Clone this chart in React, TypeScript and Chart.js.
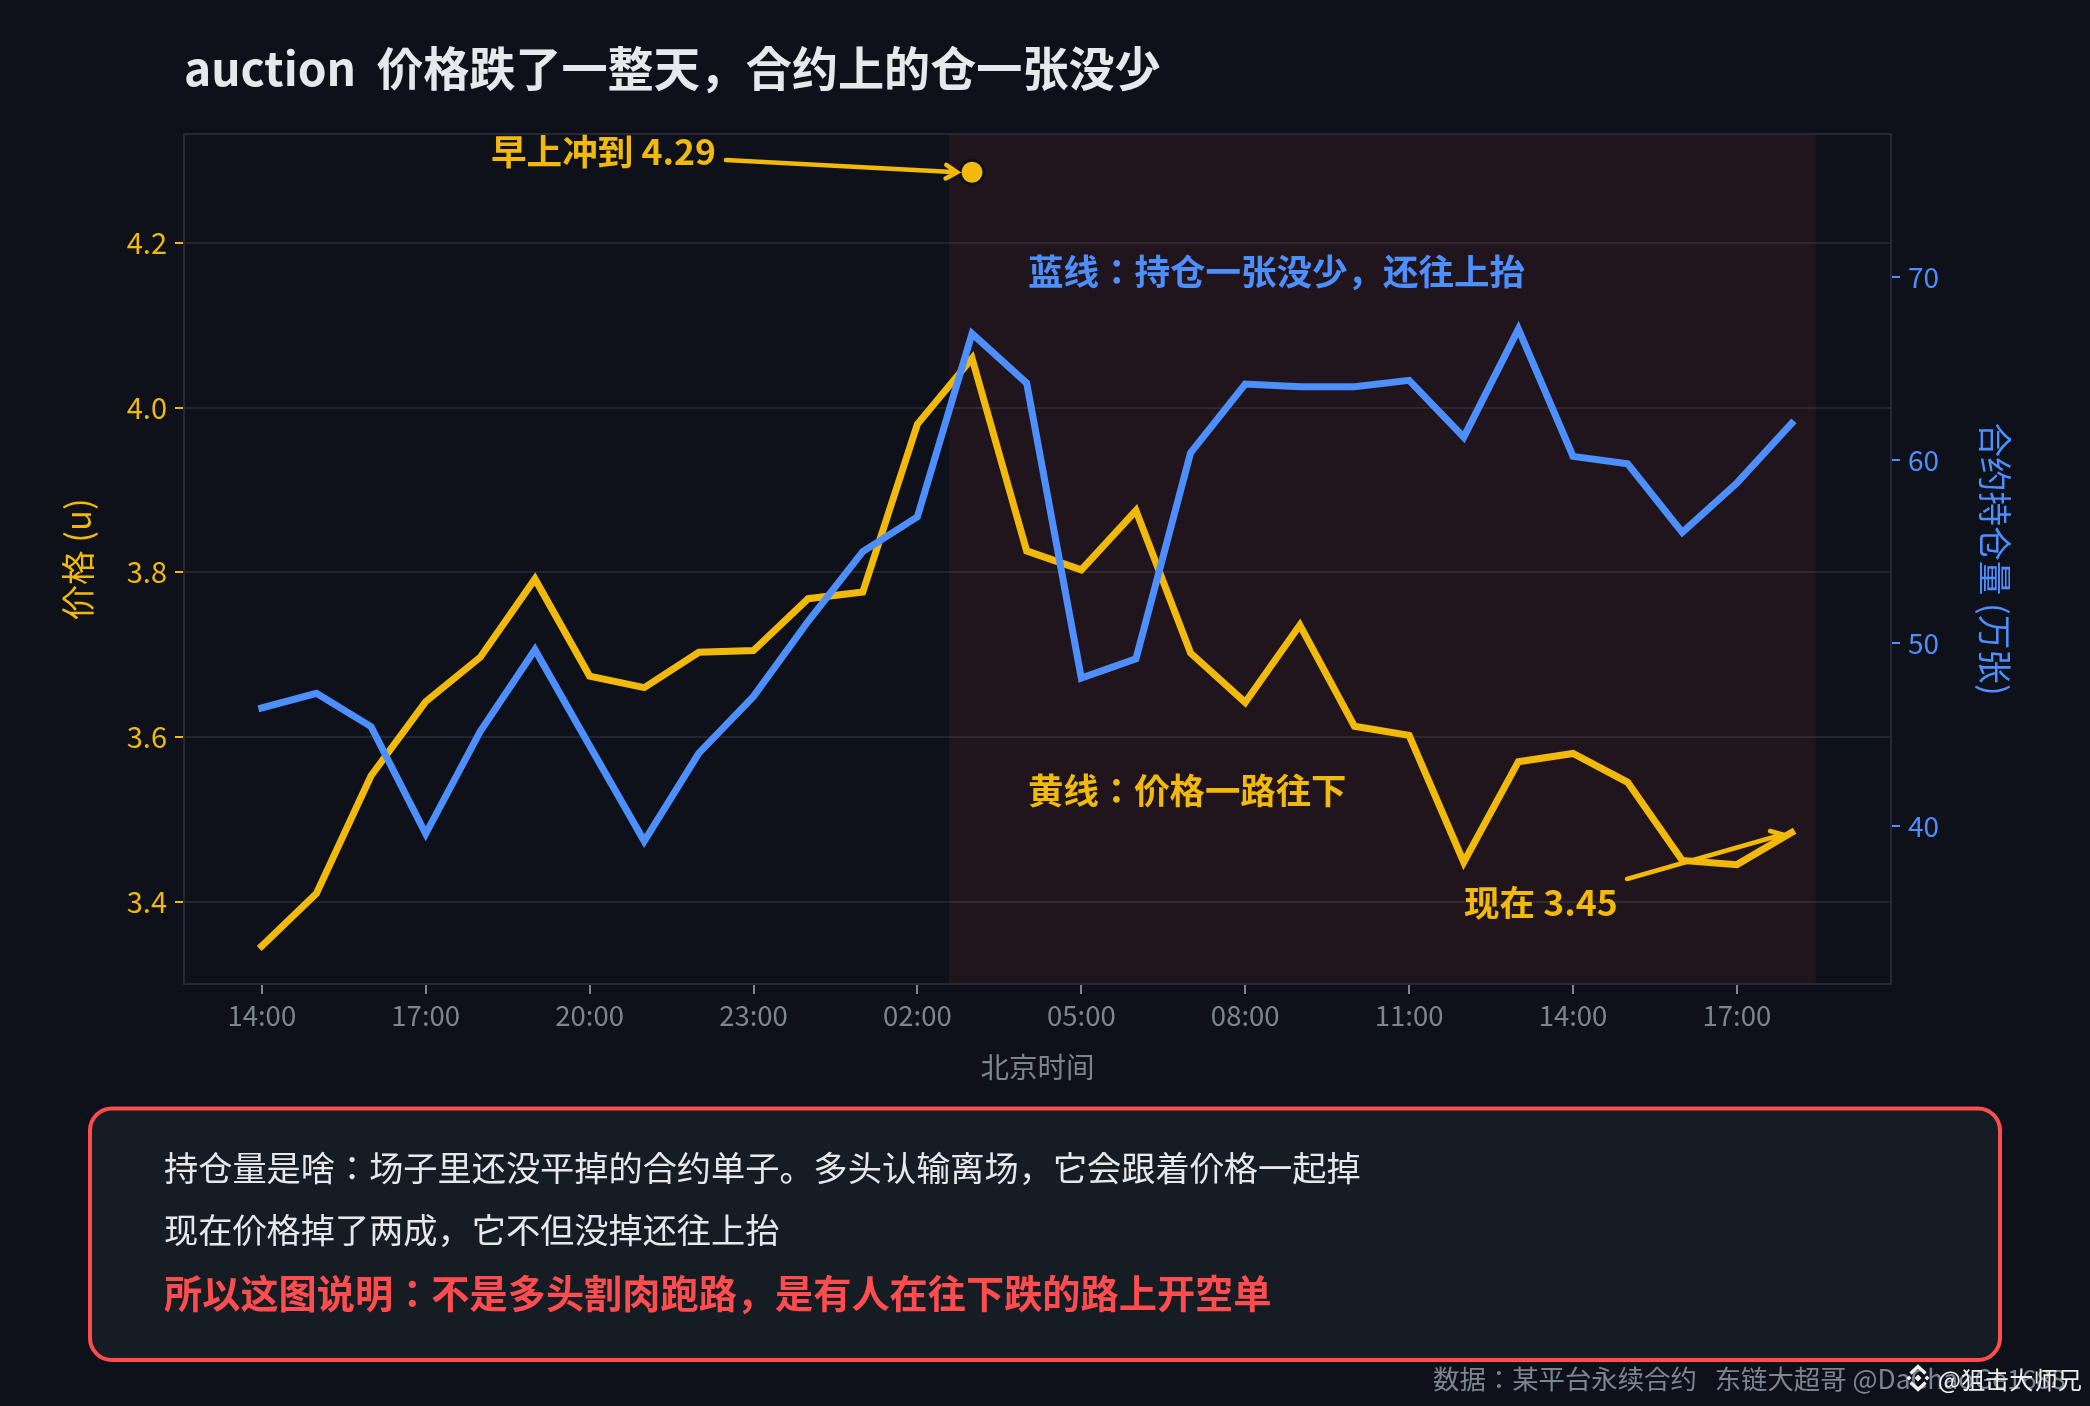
import React, { useEffect, useRef } from "react";
import { Chart, registerables } from "chart.js";

Chart.register(...registerables);

const FONT = '"Noto Sans CJK JP", "Noto Sans CJK SC", sans-serif';
const BG = "#0e1119";
const YELLOW = "#f0b90b";
const BLUE = "#4d8fff";
const RED = "#ff4d4f";
const GRID = "#1f2630";
const TICKTEXT = "#7d8590";

const hourLabels = ["14:00", "15:00", "16:00", "17:00", "18:00", "19:00", "20:00", "21:00", "22:00", "23:00", "00:00", "01:00", "02:00", "03:00", "04:00", "05:00", "06:00", "07:00", "08:00", "09:00", "10:00", "11:00", "12:00", "13:00", "14:00", "15:00", "16:00", "17:00", "18:00"];
const price = [3.346, 3.41, 3.553, 3.643, 3.697, 3.792, 3.674, 3.66, 3.703, 3.705, 3.768, 3.776, 3.98, 4.06, 3.826, 3.803, 3.875, 3.702, 3.642, 3.736, 3.613, 3.602, 3.448, 3.57, 3.58, 3.545, 3.45, 3.445, 3.484];
const openInterest = [46.47, 47.27, 45.45, 39.6, 45.2, 49.65, 44.4, 39.2, 44.0, 47.1, 51.2, 55.0, 56.9, 66.9, 64.2, 48.1, 49.15, 60.4, 64.15, 64.0, 64.0, 64.35, 61.25, 67.15, 60.2, 59.8, 56.05, 58.75, 62.0];
const peakIndex = 13;
const peakPrice = 4.286;
const shadeStart = 12.58;
const shadeEnd = 28.44;

const title = "auction  价格跌了一整天，合约上的仓一张没少";
const panelLines = ["持仓量是啥：场子里还没平掉的合约单子。多头认输离场，它会跟着价格一起掉", "现在价格掉了两成，它不但没掉还往上抬", "所以这图说明：不是多头割肉跑路，是有人在往下跌的路上开空单"];
const sourceNote = "数据：某平台永续合约   东链大超哥 @DaChaoGe1688";
const watermark = "@狙击大师兄";

function text(ctx: CanvasRenderingContext2D, s: string, x: number, y: number, size: number, color: string, bold = false, align: CanvasTextAlign = "left") {
  ctx.font = `${bold ? "700" : "400"} ${size}px ${FONT}`;
  ctx.fillStyle = color;
  ctx.textAlign = align;
  ctx.textBaseline = "middle";
  ctx.fillText(s, x, y);
}

function arrow(ctx: CanvasRenderingContext2D, x0: number, y0: number, x1: number, y1: number) {
  ctx.strokeStyle = YELLOW;
  ctx.lineWidth = 4.5;
  ctx.lineCap = "round";
  ctx.lineJoin = "miter";
  ctx.beginPath();
  ctx.moveTo(x0, y0);
  ctx.lineTo(x1, y1);
  const a = Math.atan2(y1 - y0, x1 - x0);
  const h = 13;
  ctx.moveTo(x1 - h * Math.cos(a - 0.55), y1 - h * Math.sin(a - 0.55));
  ctx.lineTo(x1, y1);
  ctx.lineTo(x1 - h * Math.cos(a + 0.55), y1 - h * Math.sin(a + 0.55));
  ctx.stroke();
}

const shadePlugin = {
  id: "shade",
  beforeDatasetsDraw(chart: any) {
    const { ctx, chartArea, scales } = chart;
    const x0 = scales.x.getPixelForValue(shadeStart);
    const x1 = scales.x.getPixelForValue(shadeEnd);
    ctx.save();
    ctx.fillStyle = "rgba(255,77,79,0.08)";
    ctx.fillRect(x0, chartArea.top, x1 - x0, chartArea.bottom - chartArea.top);
    ctx.restore();
  },
};

const decorPlugin = {
  id: "decor",
  afterDraw(chart: any) {
    const { ctx, chartArea, scales } = chart;
    const px = (v: number) => scales.x.getPixelForValue(v);
    const py = (v: number) => scales.y.getPixelForValue(v);
    ctx.save();
    // plot frame
    ctx.strokeStyle = "#232a35";
    ctx.lineWidth = 2;
    ctx.strokeRect(chartArea.left, chartArea.top, chartArea.right - chartArea.left, chartArea.bottom - chartArea.top);

    // annotations
    text(ctx, "早上冲到 4.29", 491, 151.5, 35.6, YELLOW, true);
    arrow(ctx, 726, 160, px(peakIndex) - 15, py(peakPrice));
    text(ctx, "蓝线：持仓一张没少，还往上抬", 1028, 272, 35.5, BLUE, true);
    text(ctx, "黄线：价格一路往下", 1028, 791, 35.4, YELLOW, true);
    text(ctx, "现在 3.45", 1464, 902.5, 35.6, YELLOW, true);
    arrow(ctx, 1627, 879, px(28) - 9, py(price[28]) + 2);

    // title
    text(ctx, title, 184, 68, 46.1, "#e6e8eb", true);

    // panel
    ctx.beginPath();
    ctx.roundRect(90, 1108.5, 1910, 251.5, 22);
    ctx.fillStyle = "#161c24";
    ctx.fill();
    ctx.strokeStyle = RED;
    ctx.lineWidth = 4;
    ctx.stroke();
    text(ctx, panelLines[0], 164, 1168, 34.2, "#e6e8eb");
    text(ctx, panelLines[1], 164, 1230, 34.2, "#e6e8eb");
    text(ctx, panelLines[2], 164, 1293, 38.2, RED, true);

    // footer and watermark
    text(ctx, sourceNote, 1433, 1379, 26.4, "#7d8590");
    const cx = 1918, cy = 1378;
    ctx.strokeStyle = "#f0f0f0";
    ctx.fillStyle = "#f0f0f0";
    ctx.lineWidth = 3.2;
    ctx.lineCap = "butt";
    ctx.beginPath();
    ctx.moveTo(cx - 7.5, cy - 4.5);
    ctx.lineTo(cx, cy - 11.5);
    ctx.lineTo(cx + 7.5, cy - 4.5);
    ctx.moveTo(cx - 7.5, cy + 4.5);
    ctx.lineTo(cx, cy + 11.5);
    ctx.lineTo(cx + 7.5, cy + 4.5);
    ctx.stroke();
    const diamond = (x: number, y: number, r: number) => {
      ctx.beginPath();
      ctx.moveTo(x, y - r);
      ctx.lineTo(x + r, y);
      ctx.lineTo(x, y + r);
      ctx.lineTo(x - r, y);
      ctx.closePath();
      ctx.fill();
    };
    diamond(cx, cy, 3.5);
    diamond(cx - 9, cy, 2.5);
    diamond(cx + 9, cy, 2.5);
    text(ctx, watermark, 1938, 1380, 24.2, "#f0f0f0");
    ctx.restore();
  },
};

export default function App() {
  const ref = useRef<HTMLCanvasElement>(null);
  useEffect(() => {
    document.body.style.margin = "0";
    document.body.style.background = BG;
    const chart = new Chart(ref.current!, {
      type: "line",
      data: {
        datasets: [
          {
            label: "合约持仓量",
            data: openInterest.map((v, i) => ({ x: i, y: v })),
            yAxisID: "y1",
            borderColor: BLUE,
            borderWidth: 7,
            pointRadius: 0,
            tension: 0,
            borderJoinStyle: "miter",
            borderCapStyle: "square",
            order: 1,
          },
          {
            label: "价格",
            data: price.map((v, i) => ({ x: i, y: v })),
            yAxisID: "y",
            borderColor: YELLOW,
            borderWidth: 7,
            pointRadius: 0,
            tension: 0,
            borderJoinStyle: "miter",
            borderCapStyle: "square",
            order: 2,
          },
          {
            label: "高点",
            data: [{ x: peakIndex, y: peakPrice }],
            yAxisID: "y",
            showLine: false,
            pointRadius: 12,
            pointBackgroundColor: YELLOW,
            pointBorderColor: BG,
            pointBorderWidth: 3,
            order: 0,
          },
        ],
      },
      options: {
        responsive: false,
        animation: false,
        devicePixelRatio: 1,
        layout: { padding: { left: 50, right: 69, top: 134, bottom: 322 } },
        plugins: { legend: { display: false }, tooltip: { enabled: false }, title: { display: false } },
        scales: {
          x: {
            type: "linear",
            min: -1.424,
            max: 29.82,
            afterFit(s: any) { s.height = 100; },
            afterBuildTicks(s: any) {
              const t = [];
              for (let i = 0; i < hourLabels.length; i += 3) t.push({ value: i });
              s.ticks = t;
            },
            ticks: {
              color: TICKTEXT,
              font: { family: FONT, size: 27.5 },
              padding: 5,
              maxRotation: 0,
              autoSkip: false,
              callback: (v: any) => hourLabels[v],
            },
            grid: { drawOnChartArea: false, color: "#7d8590", tickColor: "#7d8590", tickLength: 10, lineWidth: 2 },
            border: { display: false },
            title: { display: true, text: "北京时间", color: TICKTEXT, font: { family: FONT, size: 28.5 }, padding: { top: 0, bottom: 0 } },
          },
          y: {
            position: "left",
            min: 3.3,
            max: 4.3324,
            afterFit(s: any) { s.width = 134; },
            afterBuildTicks(s: any) {
              s.ticks = [3.4, 3.6, 3.8, 4.0, 4.2].map((value) => ({ value }));
            },
            ticks: { color: YELLOW, font: { family: FONT, size: 29 }, padding: 8, callback: (v: any) => Number(v).toFixed(1) },
            grid: { color: GRID, tickColor: YELLOW, tickLength: 9, lineWidth: 2 },
            border: { display: false },
            title: { display: true, text: "价格 (u)", color: YELLOW, font: { family: FONT, size: 34.6 }, padding: { top: 7, bottom: 0 } },
          },
          y1: {
            position: "right",
            min: 31.4,
            max: 77.8,
            afterFit(s: any) { s.width = 130; },
            afterBuildTicks(s: any) {
              s.ticks = [40, 50, 60, 70].map((value) => ({ value }));
            },
            ticks: { color: BLUE, font: { family: FONT, size: 28 }, padding: 8, callback: (v: any) => String(v) },
            grid: { drawOnChartArea: false, color: BLUE, tickColor: BLUE, tickLength: 9, lineWidth: 2 },
            border: { display: false },
            title: { display: true, text: "合约持仓量 (万张)", color: BLUE, font: { family: FONT, size: 34.6 }, padding: { top: 5, bottom: 0 } },
          },
        },
      },
      plugins: [shadePlugin, decorPlugin],
    } as any);
    return () => chart.destroy();
  }, []);
  return (
    <div style={{ position: "absolute", left: 0, top: 0, width: 2090, height: 1406, background: BG }}>
      <canvas ref={ref} width={2090} height={1406} style={{ display: "block" }} />
    </div>
  );
}
